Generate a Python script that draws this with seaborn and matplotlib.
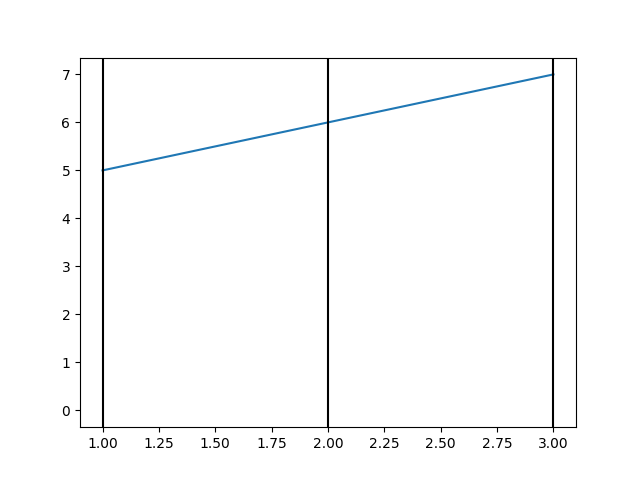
import matplotlib
matplotlib.use("Agg")
import matplotlib.pyplot as plt
import seaborn as sns

# data
x_vals = [1, 2, 3]
y_vals = [5, 6, 7]
y_low = 0
y_high = 7

fig, ax = plt.subplots(figsize=(6.4, 4.8), dpi=100)

sns.lineplot(x=x_vals, y=y_vals, ax=ax, color="#1f77b4")

# vertical markers at each x, reaching past the axes
for xv in x_vals:
    ax.axvline(xv, color="black", linewidth=1.5)

margin = 0.05 * (y_high - y_low)
ax.set_ylim(y_low - margin, y_high + margin)

plt.savefig("out.png", dpi=100)
